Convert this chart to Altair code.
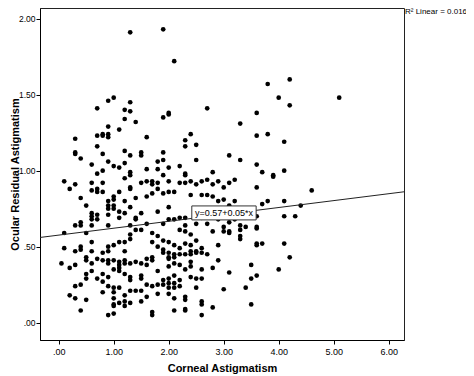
import altair as alt
import pandas as pd

# Corneal astigmatism columns (x) and the ocular residual astigmatism values (y) read in each column
col_x = [0.05, 0.1, 0.2, 0.3, 0.4, 0.5, 0.6, 0.7, 0.8, 0.9,
         1.0, 1.1, 1.2, 1.3, 1.4, 1.5, 1.6, 1.7, 1.8, 1.9,
         2.0, 2.1, 2.2, 2.3, 2.4, 2.5, 2.6, 2.7, 2.8, 2.9,
         3.0, 3.1, 3.2, 3.3, 3.4, 3.5, 3.6, 3.7, 3.8, 3.9,
         4.0, 4.1, 4.2, 4.3, 4.4, 4.6, 5.1]
col_y = [
    [0.39],
    [0.93, 0.59, 0.49],
    [0.88, 0.36, 0.18],
    [1.21, 1.12, 1.11, 0.91, 0.64, 0.47, 0.38, 0.24, 0.16],
    [1.08, 0.82, 0.66, 0.64, 0.50, 0.48, 0.25, 0.08],
    [0.77, 0.59, 0.43, 0.41, 0.32, 0.29, 0.15],
    [1.04, 0.92, 0.87, 0.72, 0.70, 0.68, 0.64, 0.53, 0.47, 0.39, 0.34],
    [1.41, 1.23, 1.16, 0.98, 0.88, 0.86, 0.71, 0.68, 0.42, 0.29],
    [1.24, 1.23, 1.11, 1.00, 0.92, 0.86, 0.46, 0.41, 0.32, 0.27, 0.20],
    [1.46, 1.29, 1.24, 1.22, 1.06, 0.80, 0.77, 0.75, 0.71, 0.64, 0.50, 0.47, 0.41, 0.39, 0.30, 0.24, 0.05],
    [1.48, 1.03, 0.83, 0.81, 0.77, 0.75, 0.51, 0.41, 0.35, 0.23, 0.20, 0.16, 0.12, 0.11, 0.06],
    [1.27, 1.02, 0.86, 0.73, 0.69, 0.53, 0.40, 0.38, 0.36, 0.34, 0.23, 0.13],
    [1.40, 1.34, 1.13, 1.05, 0.95, 0.80, 0.72, 0.53, 0.47, 0.41, 0.39, 0.32, 0.18, 0.14, 0.11],
    [1.91, 1.45, 1.39, 1.10, 0.99, 0.97, 0.89, 0.88, 0.76, 0.64, 0.58, 0.55, 0.39, 0.30, 0.28, 0.21, 0.13],
    [1.32, 0.82, 0.69, 0.68, 0.61, 0.40, 0.21],
    [1.12, 1.10, 0.92, 0.72, 0.61, 0.39, 0.31, 0.29, 0.21, 0.14],
    [1.22, 1.01, 0.93, 0.83, 0.65, 0.42, 0.38, 0.25, 0.17],
    [0.93, 0.91, 0.85, 0.59, 0.53, 0.43, 0.41, 0.24, 0.07, 0.05],
    [1.06, 1.01, 0.92, 0.88, 0.73, 0.57, 0.50, 0.34, 0.25, 0.19],
    [1.93, 1.35, 1.12, 1.07, 0.97, 0.85, 0.65, 0.54, 0.48, 0.46, 0.28, 0.25],
    [1.38, 1.37, 1.02, 0.93, 0.86, 0.76, 0.68, 0.53, 0.46, 0.43, 0.42, 0.37, 0.29, 0.26, 0.23, 0.19],
    [1.72, 0.86, 0.68, 0.51, 0.45, 0.43, 0.39, 0.31, 0.26, 0.23, 0.16, 0.08],
    [1.03, 0.92, 0.69, 0.61, 0.49, 0.45, 0.38, 0.28, 0.24],
    [1.20, 1.16, 0.98, 0.97, 0.92, 0.69, 0.64, 0.60, 0.52, 0.45, 0.35, 0.17, 0.15, 0.09, 0.08],
    [1.24, 0.93, 0.84, 0.58, 0.51, 0.47, 0.45, 0.40, 0.37, 0.30],
    [1.17, 1.07, 0.91, 0.65, 0.54, 0.47, 0.46, 0.29, 0.23],
    [0.93, 0.84, 0.69, 0.49, 0.46, 0.35, 0.29, 0.14, 0.12, 0.05],
    [1.41, 0.94, 0.84, 0.65, 0.45],
    [0.99, 0.91, 0.83, 0.60, 0.36, 0.10],
    [0.93, 0.80, 0.68, 0.51, 0.41],
    [0.89, 0.81, 0.75, 0.63, 0.60, 0.22],
    [1.10, 0.92, 0.77, 0.66, 0.60, 0.59, 0.33],
    [0.94, 0.80, 0.68],
    [1.31, 1.07, 0.64, 0.61, 0.57, 0.55],
    [0.63, 0.23],
    [0.38, 0.29, 0.12],
    [1.38, 1.23, 1.04, 0.89, 0.70, 0.63, 0.62, 0.52, 0.51, 0.31],
    [0.99, 0.78, 0.52],
    [1.57, 1.24, 0.80],
    [0.97, 0.96],
    [1.48, 0.35],
    [1.19, 1.00, 0.80, 0.70, 0.52],
    [1.60, 1.43, 0.43],
    [0.70],
    [0.77],
    [0.87],
    [1.48],
]

x_ticks = [0, 1, 2, 3, 4, 5, 6]
y_ticks = [0, 0.5, 1, 1.5, 2]
x_domain = [-0.34, 6.278]
y_domain = [-0.114, 2.070]
fit_intercept = 0.576
fit_slope = 0.0454
eq_label = "y=0.57+0.05*x"
r2_label = "R\u00b2 Linear = 0.016"

rows = [{"corneal": x, "ocular": y} for x, ys in zip(col_x, col_y) for y in ys]
pts = pd.DataFrame(rows)
line_df = pd.DataFrame({"corneal": x_domain,
                        "ocular": [fit_intercept + fit_slope * v for v in x_domain]})
box_df = pd.DataFrame({"x1": [2.42], "x2": [3.59], "y1": [0.676], "y2": [0.768],
                       "xc": [3.005], "yc": [0.722], "label": [eq_label]})
r2_df = pd.DataFrame({"label": [r2_label]})

W, H = 364, 332
lbl = "datum.value < 1 ? substring(format(datum.value, '.2f'), 1) : format(datum.value, '.2f')"

xscale = alt.Scale(domain=x_domain, nice=False, zero=False)
yscale = alt.Scale(domain=y_domain, nice=False, zero=False)

xaxis = alt.Axis(values=x_ticks, labelExpr=lbl, grid=False, tickSize=4, labelPadding=3,
                 labelFontSize=9,
                 title="Corneal Astigmatism", titleY=22, titleBaseline="top")
yaxis = alt.Axis(values=y_ticks, labelExpr=lbl, grid=False, tickSize=4, labelPadding=1,
                 labelFontSize=8.5,
                 title="Ocular Residual Astigmatism", titleX=-20)

points = alt.Chart(pts).mark_circle(size=22, color="black", opacity=1).encode(
    x=alt.X("corneal:Q", scale=xscale, axis=xaxis),
    y=alt.Y("ocular:Q", scale=yscale, axis=yaxis),
)

fit = alt.Chart(line_df).mark_line(color="#222222", strokeWidth=1).encode(
    x=alt.X("corneal:Q", scale=xscale),
    y=alt.Y("ocular:Q", scale=yscale),
)

box = alt.Chart(box_df).mark_rect(fill="white", stroke="#333333", strokeWidth=1).encode(
    x=alt.X("x1:Q", scale=xscale), x2="x2:Q",
    y=alt.Y("y1:Q", scale=yscale), y2="y2:Q",
)
box_text = alt.Chart(box_df).mark_text(font="Liberation Sans", fontSize=9, color="black",
                                        align="center", baseline="middle").encode(
    x=alt.X("xc:Q", scale=xscale), y=alt.Y("yc:Q", scale=yscale), text="label:N")

r2 = alt.Chart(r2_df).mark_text(font="Liberation Sans", fontSize=8, color="black",
                                align="left", baseline="top").encode(
    x=alt.value(W + 1), y=alt.value(0), text="label:N")

chart = alt.layer(points, fit, box, box_text, r2).properties(
    width=W, height=H,
    autosize=alt.AutoSizeParams(type="none"),
    padding={"left": 32, "top": 0, "right": 62, "bottom": 36},
).configure_view(stroke="#222222", strokeWidth=1).configure_axis(
    domainColor="black", tickColor="black", labelColor="black", titleColor="black",
    labelFont="Liberation Sans",
    titleFont="Liberation Sans", titleFontSize=11, titleFontWeight="bold",
)

chart.save("out.html", embed_options={"renderer": "svg", "actions": False})
